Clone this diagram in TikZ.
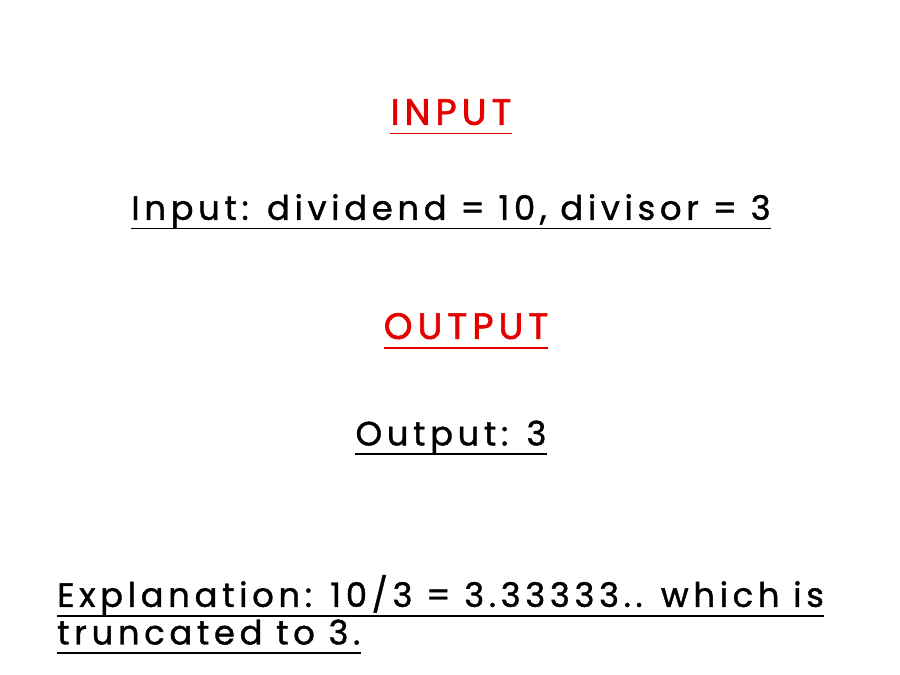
\documentclass[tikz,border=0pt]{standalone}
\usepackage{fontspec}
\setmainfont{Poppins}[LetterSpace=14, FakeBold=1.2]
\newfontfamily\headfont{Poppins}[LetterSpace=14, FakeBold=1.8]
\tikzset{
  ul/.style={inner sep=0pt, font=\fontsize{24}{28}\selectfont, text depth=0pt},
  head/.style={inner sep=0pt, font=\headfont\fontsize{26}{30}\selectfont, text depth=0pt, text=red!90!black},
}
\newcommand{\ulline}[1]{\draw[line width=1.3pt] ([yshift=-6pt]#1.south west) -- ([yshift=-6pt]#1.south east);}
\begin{document}
\begin{tikzpicture}[x=0.025cm,y=-0.025cm]
  \useasboundingbox[fill=white] (0,0) rectangle (900,675);

  % headings and lines
  \node[head] (inhead) at (451,112) {INPUT};
  \node[ul] (inline) at (451,207) {Input: dividend = 10, divisor = 3};
  \node[head] (outhead) at (466,326) {OUTPUT};
  \node[ul] (outline) at (451,433) {Output: 3};
  \node[ul, anchor=west] (expa) at (57,591) {Explanation: 10/3 = 3.33333.. which is};
  \node[ul, anchor=west] (expb) at (57,632) {truncated to 3.};

  % underlines
  \draw[red!90!black, line width=1.3pt] ([yshift=-6pt]inhead.south west) -- ([yshift=-6pt]inhead.south east);
  \draw[red!90!black, line width=1.3pt] ([yshift=-6pt]outhead.south west) -- ([yshift=-6pt]outhead.south east);
  \ulline{inline}
  \ulline{outline}
  \ulline{expa}
  \ulline{expb}
\end{tikzpicture}
\end{document}
